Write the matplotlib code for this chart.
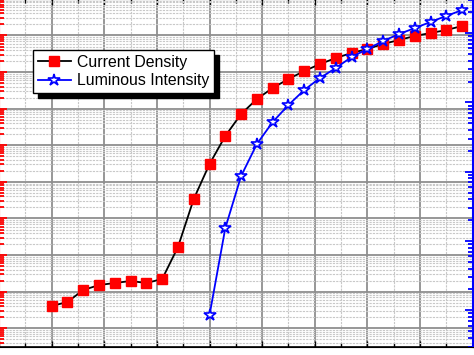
import matplotlib
matplotlib.use("Agg")
import matplotlib.pyplot as plt
from matplotlib.ticker import MultipleLocator, LogLocator, NullFormatter

plt.rcParams["font.family"] = ["Liberation Sans", "DejaVu Sans"]

# --- data ------------------------------------------------------------
voltage = [1.0, 1.3, 1.6, 1.9, 2.2, 2.5, 2.8, 3.1, 3.4, 3.7,
           4.0, 4.3, 4.6, 4.9, 5.2, 5.5, 5.8, 6.1, 6.4, 6.7,
           7.0, 7.3, 7.6, 7.9, 8.2, 8.5, 8.8]

# mA/cm^2
current_density = [4.06e-6, 5.24e-6, 1.11e-5, 1.52e-5, 1.73e-5, 1.96e-5,
                   1.73e-5, 2.22e-5, 1.66e-4, 3.41e-3, 3.08e-2, 0.180,
                   0.716, 1.84, 3.68, 6.48, 10.7, 16.6, 24.3, 33.3, 42.8,
                   58.6, 75.4, 96.9, 117, 141, 182]

# cd/m^2, starts at 4.0 V
lum_voltage = voltage[10:]
luminous_intensity = [0.855, 15.4, 86.7, 251, 521, 918, 1510, 2250, 3140,
                      4520, 5900, 7690, 9700, 11800, 14500, 17700, 21500]

labels = ["Current Density", "Luminous Intensity"]

# --- figure ------------------------------------------------------------
W, H = 474, 355
fig = plt.figure(figsize=(W / 100, H / 100), dpi=100)
ax = fig.add_axes([-1 / W, 7.7 / H, 473.7 / W, 348.3 / H])
ax2 = ax.twinx()

ax.set_xlim(0, 9)
ax.set_yscale("log")
ax.set_ylim(10 ** -6.519, 10 ** 2.997)
ax2.set_yscale("log")
ax2.set_ylim(10 ** -0.534, 10 ** 4.492)

ax.xaxis.set_major_locator(MultipleLocator(1))
ax.xaxis.set_minor_locator(MultipleLocator(0.5))
for a in (ax, ax2):
    a.yaxis.set_major_locator(LogLocator(base=10, numticks=20))
    a.yaxis.set_minor_locator(LogLocator(base=10, subs=range(2, 10), numticks=20))
    a.yaxis.set_minor_formatter(NullFormatter())
    a.tick_params(labelleft=False, labelright=False,
                  labelbottom=False, labeltop=False)

# grid
ax.set_axisbelow(True)
ax.grid(which="major", color="#8f8f8f", lw=1.3)
ax.grid(which="minor", color="#c8c8c8", lw=0.8, ls=(0, (2, 1)))

# ticks
ax.tick_params(axis="x", which="both", direction="in", top=True,
               bottom=True, color="black", width=1)
ax.tick_params(axis="x", which="major", length=4.5)
ax.tick_params(axis="x", which="minor", length=3)
ax.tick_params(axis="y", which="both", direction="in", color="red",
               width=1.3, right=False)
ax.tick_params(axis="y", which="major", length=6)
ax.tick_params(axis="y", which="minor", length=3.5)
ax2.tick_params(axis="y", which="both", direction="in", color="blue",
                width=1.3)
ax2.tick_params(axis="y", which="major", length=6)
ax2.tick_params(axis="y", which="minor", length=3.5)

ax.spines["left"].set_color("red")
ax2.spines["right"].set_color("blue")
ax2.spines["right"].set_linewidth(1.5)
ax2.spines["left"].set_visible(False)
for s in ("bottom", "top"):
    ax.spines[s].set_linewidth(1.2)

# series
l1, = ax.plot(voltage, current_density, "-", color="black", lw=1.3,
              marker="s", ms=6.5, mfc="red", mec="red")
l2, = ax2.plot(lum_voltage, luminous_intensity, "-", color="blue", lw=1.3,
               marker="*", ms=9, mfc="white", mec="blue", mew=1.2)

leg = ax2.legend([l1, l2], labels, loc="upper left",
                 bbox_to_anchor=(34 / 473.7, 1 - 51 / 348.3),
                 borderaxespad=0, fontsize=11.4, frameon=True, fancybox=False,
                 edgecolor="black", framealpha=1, borderpad=0.3,
                 labelspacing=0.22, handletextpad=0.4, handlelength=2.1,
                 shadow={"ox": 3.6, "oy": -3.6, "shade": 1.0, "alpha": 1})
leg.get_frame().set_linewidth(1.0)

fig.savefig("out.png", dpi=100)
